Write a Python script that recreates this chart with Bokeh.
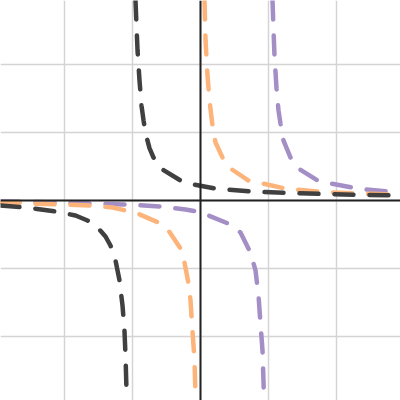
from bokeh.plotting import figure
from bokeh.models import Range1d, Span, FixedTicker
from bokeh.embed import file_html
from bokeh.resources import INLINE

# Curves (data units), each split into its two branches
dark_top_x = [-0.956, -0.926, -0.897, -0.868, -0.838, -0.800, -0.750, -0.691, -0.559, -0.294, -0.103, 0.221, 0.735, 1.294, 1.809, 2.353, 2.941]
dark_top_y = [2.941, 2.206, 1.765, 1.397, 1.180, 0.960, 0.770, 0.632, 0.456, 0.294, 0.235, 0.176, 0.132, 0.110, 0.096, 0.081, 0.074]
dark_bot_x = [-2.941, -2.5, -2.132, -1.838, -1.662, -1.5, -1.397, -1.324, -1.25, -1.191, -1.147, -1.118, -1.103, -1.088, -1.081]
dark_bot_y = [-0.074, -0.110, -0.162, -0.221, -0.294, -0.412, -0.529, -0.662, -0.882, -1.176, -1.544, -1.912, -2.279, -2.794, -2.941]

orange_top_x = [0.059, 0.074, 0.103, 0.132, 0.176, 0.221, 0.324, 0.441, 0.706, 0.912, 1.25, 1.794, 2.309, 2.941]
orange_top_y = [2.941, 2.353, 1.838, 1.471, 1.103, 0.853, 0.632, 0.471, 0.294, 0.25, 0.176, 0.125, 0.103, 0.088]
orange_bot_x = [-2.941, -2.5, -2.059, -1.618, -1.294, -1.103, -0.926, -0.618, -0.471, -0.294, -0.235, -0.176, -0.147, -0.118, -0.088, -0.074, -0.066]
orange_bot_y = [-0.029, -0.044, -0.059, -0.074, -0.103, -0.147, -0.191, -0.324, -0.441, -0.706, -0.912, -1.221, -1.471, -1.912, -2.353, -2.868, -2.941]

purple_top_x = [1.059, 1.074, 1.088, 1.118, 1.147, 1.176, 1.221, 1.324, 1.441, 1.721, 1.912, 2.235, 2.426, 2.765, 2.941]
purple_top_y = [2.941, 2.5, 2.132, 1.647, 1.324, 1.132, 0.882, 0.632, 0.471, 0.294, 0.25, 0.191, 0.162, 0.132, 0.125]
purple_bot_x = [-2.941, -2.5, -2.059, -1.618, -1.103, -0.588, -0.221, -0.044, 0.118, 0.441, 0.588, 0.735, 0.809, 0.853, 0.882, 0.912, 0.926, 0.934]
purple_bot_y = [-0.015, -0.022, -0.029, -0.044, -0.059, -0.088, -0.132, -0.162, -0.221, -0.353, -0.471, -0.765, -1.029, -1.397, -1.809, -2.206, -2.647, -2.941]

grid_ticks = [-2, -1, 0, 1, 2]

half = 200 / 68.0
p = figure(width=400, height=400, output_backend="svg", toolbar_location=None,
           x_range=Range1d(-half, half), y_range=Range1d(-half, half),
           min_border=0)
p.outline_line_color = None
p.background_fill_color = "white"
p.border_fill_color = "white"
p.xaxis.visible = False
p.yaxis.visible = False
p.xgrid.ticker = FixedTicker(ticks=grid_ticks)
p.ygrid.ticker = FixedTicker(ticks=grid_ticks)
p.grid.grid_line_color = "#d4d4d4"
p.grid.grid_line_width = 1.5
p.grid.grid_line_alpha = 1.0

p.add_layout(Span(location=0, dimension="width", line_color="#222222", line_width=2))
p.add_layout(Span(location=0, dimension="height", line_color="#222222", line_width=2))

style = dict(line_width=4.5, line_dash="19 16", line_cap="round", line_join="round")
p.line(purple_top_x, purple_top_y, line_color="#a48ec6", **style)
p.line(purple_bot_x, purple_bot_y, line_color="#a48ec6", **style)
p.line(orange_top_x, orange_top_y, line_color="#fdb47a", **style)
p.line(orange_bot_x, orange_bot_y, line_color="#fdb47a", **style)
p.line(dark_top_x, dark_top_y, line_color="#404040", **style)
p.line(dark_bot_x, dark_bot_y, line_color="#404040", **style)

open("out.html", "w").write(file_html(p, INLINE))
